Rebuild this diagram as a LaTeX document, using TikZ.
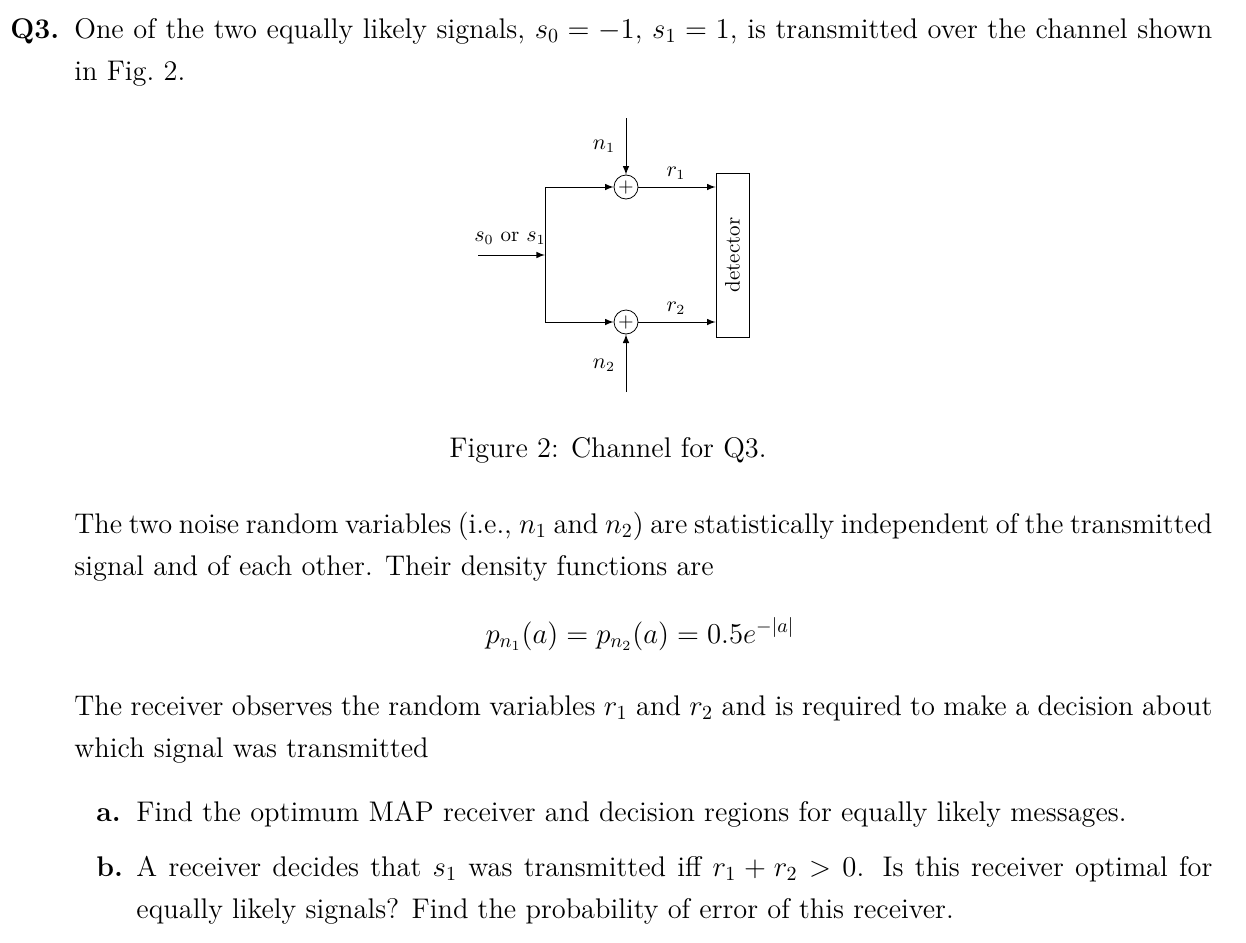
\documentclass[tikz,border=0pt]{standalone}
\usepackage{amsmath}
\begin{document}
\begin{tikzpicture}[x=0.5pt,y=-0.5pt,
  body/.style={inner sep=0pt,align=justify,font=\fontsize{14.2}{21}\selectfont},
  small/.style={inner sep=1pt,font=\fontsize{10.5}{12}\selectfont},
  adder/.style={draw,circle,minimum size=12pt,inner sep=0pt},
  arr/.style={-latex,line width=0.5pt}]
\useasboundingbox (0,0) rectangle (1246,942);
\node[body,anchor=base west] (q3) at (10,38) {\textbf{Q3.}};
\node[body,anchor=base west,text width=569pt] (p1) at (74,38) {One of the two equally likely signals, $s_0=-1$, $s_1=1$, is transmitted over the channel shown in Fig.~2.};
% diagram
\coordinate (in) at (478,255);
\coordinate (sp) at (545,255);
\node[adder] (a1) at (626,187) {$+$};
\node[adder] (a2) at (626,322) {$+$};
\node[draw,minimum width=16.5pt,minimum height=82pt,inner sep=0pt] (det) at (732.5,255) {};
\node[small,rotate=90] (dl) at (det.center) {detector};
\coordinate (n1s) at (626,118);
\coordinate (n2s) at (626,392);
\draw[arr] (in) -- (sp);
\draw[arr] (sp) |- (a1.west);
\draw[arr] (sp) |- (a2.west);
\draw[arr] (n1s) -- (a1.north);
\draw[arr] (n2s) -- (a2.south);
\draw[arr] (a1.east) -- (a1.east -| det.west);
\draw[arr] (a2.east) -- (a2.east -| det.west);
\node[small] (ls) at (510,238) {$s_0$ or $s_1$};
\node[small] (ln1) at (604,146) {$n_1$};
\node[small] (ln2) at (604,365) {$n_2$};
\node[small] (lr1) at (676,173) {$r_1$};
\node[small] (lr2) at (676,308) {$r_2$};
\node[body,anchor=base] (cap) at (608,457) {Figure 2: Channel for Q3.};
\node[body,anchor=base west,text width=569pt] (p2) at (74,533) {The two noise random variables (i.e., $n_1$ and $n_2$) are statistically independent of the trans\-mitted signal and of each other. Their density functions are};
\node[body,anchor=base] (eq) at (640,643) {$p_{n_1}(a)=p_{n_2}(a)=0.5e^{-|a|}$};
\node[body,anchor=base west,text width=569pt] (p3) at (74,715) {The receiver observes the random variables $r_1$ and $r_2$ and is required to make a decision about which signal was transmitted};
\node[body,anchor=base west] (la) at (96,821) {\textbf{a.}};
\node[body,anchor=base west,text width=538pt] (ia) at (136,821) {Find the optimum MAP receiver and decision regions for equally likely messages.};
\node[body,anchor=base west] (lb) at (96,876) {\textbf{b.}};
\node[body,anchor=base west,text width=538pt] (ib) at (136,876) {A receiver decides that $s_1$ was transmitted iff $r_1+r_2>0$. Is this receiver optimal for equally likely signals? Find the probability of error of this receiver.};
\end{tikzpicture}
\end{document}
